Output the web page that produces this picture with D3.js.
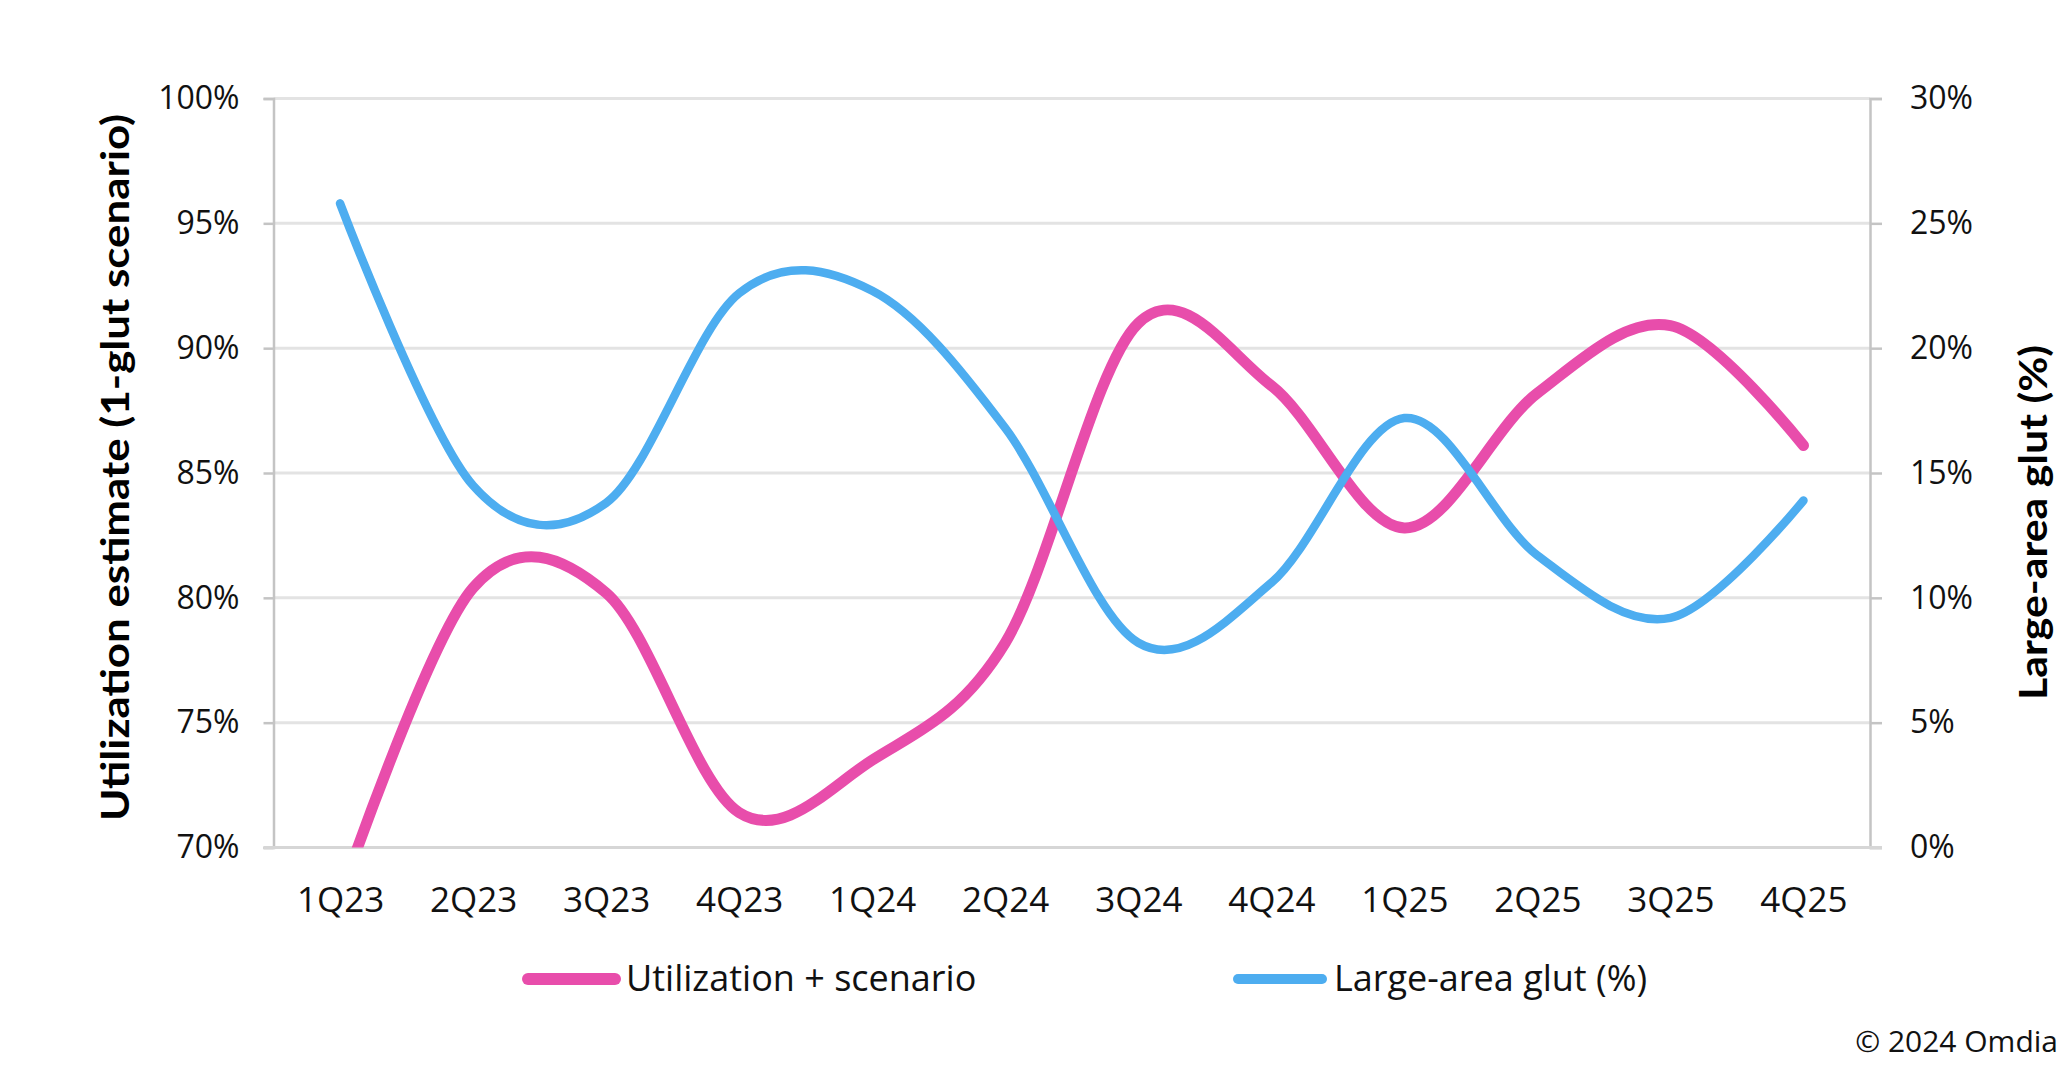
<!DOCTYPE html>
<html>
<head>
<meta charset="utf-8">
<script src="https://cdn.jsdelivr.net/npm/d3@7"></script>
<style>
  html, body { margin: 0; padding: 0; background: #fff; }
  svg { display: block; }
</style>
</head>
<body>
<svg id="chart" width="2068" height="1083"></svg>
<script>
// ---- data ----
const categories = ["1Q23","2Q23","3Q23","4Q23","1Q24","2Q24","3Q24","4Q24","1Q25","2Q25","3Q25","4Q25"];
const utilization = [68.0, 80.4, 80.2, 71.4, 73.5, 78.2, 91.0, 88.5, 82.8, 88.2, 90.9, 86.1];
const glut = [25.8, 14.5, 13.8, 22.2, 22.3, 16.8, 8.2, 10.6, 17.2, 11.7, 9.2, 13.9];
const leftTicks = [70, 75, 80, 85, 90, 95, 100];
const rightTicks = [0, 5, 10, 15, 20, 25, 30];
const seriesNames = ["Utilization + scenario", "Large-area glut (%)"];
const leftTitle = "Utilization estimate (1-glut scenario)";
const rightTitle = "Large-area glut (%)";
const credit = "\u00A9 2024 Omdia";

// ---- layout ----
const L = 273.5, R = 1870, T = 98.5, B = 847.5;
const pink = "#E84DAB", blue = "#4DADF0";
const svg = d3.select("#chart");

const x = d3.scalePoint().domain(categories).range([L, R]).padding(0.5);
const yL = d3.scaleLinear().domain([70, 100]).range([B, T]);
const yR = d3.scaleLinear().domain([0, 30]).range([B, T]);

// gridlines
svg.append("g").selectAll("line").data(leftTicks.slice(1)).join("line")
  .attr("x1", L).attr("x2", R)
  .attr("y1", d => yL(d)).attr("y2", d => yL(d))
  .attr("stroke", "#e3e3e3").attr("stroke-width", 3);

// left axis
const gL = svg.append("g").attr("transform", `translate(${L},0)`)
  .call(d3.axisLeft(yL).tickValues(leftTicks).tickSize(10).tickPadding(24).tickFormat(d => d + "%"));
// right axis
const gR = svg.append("g").attr("transform", `translate(${R},0)`)
  .call(d3.axisRight(yR).tickValues(rightTicks).tickSize(12).tickPadding(28).tickFormat(d => d + "%"));
[gL, gR].forEach(g => {
  g.select(".domain").attr("stroke", "#c4c4c4").attr("stroke-width", 2.5);
  g.selectAll(".tick line").attr("stroke", "#c4c4c4").attr("stroke-width", 2.5);
  g.selectAll(".tick text").attr("font-family", "'Open Sans', sans-serif")
    .attr("font-size", 32).attr("fill", "#111");
});
// category axis (baseline)
const gX = svg.append("g").attr("transform", `translate(0,${B})`)
  .call(d3.axisBottom(x).tickSize(0).tickPadding(40));
gX.select(".domain").attr("stroke", "#d6d6d6").attr("stroke-width", 3)
  .attr("d", `M${L - 10},0H${R + 12}`);
gX.selectAll(".tick text").attr("font-family", "'Open Sans', sans-serif")
  .attr("font-size", 35).attr("fill", "#111").attr("dy", "0.71em");

// clip
svg.append("clipPath").attr("id", "plotclip").append("rect")
  .attr("x", L - 10).attr("y", T).attr("width", R - L + 20).attr("height", B - T);

const curve = d3.curveCardinal.tension(0);
const lineL = d3.line().x((d, i) => x(categories[i])).y(d => yL(d)).curve(curve);
const lineR = d3.line().x((d, i) => x(categories[i])).y(d => yR(d)).curve(curve);

const lines = svg.append("g").attr("clip-path", "url(#plotclip)");
lines.append("path").attr("d", lineL(utilization)).attr("fill", "none")
  .attr("stroke", pink).attr("stroke-width", 11).attr("stroke-linecap", "round").attr("stroke-linejoin", "round");
lines.append("path").attr("d", lineR(glut)).attr("fill", "none")
  .attr("stroke", blue).attr("stroke-width", 8.5).attr("stroke-linecap", "round").attr("stroke-linejoin", "round");

// axis titles
svg.append("text").text(leftTitle)
  .attr("transform", `translate(129,${467.5}) rotate(-90)`)
  .attr("text-anchor", "middle").attr("font-family", "Lato, sans-serif").attr("font-weight", 700)
  .attr("font-size", 39).attr("fill", "#000")
  .attr("textLength", 707).attr("lengthAdjust", "spacingAndGlyphs");
svg.append("text").text(rightTitle)
  .attr("transform", `translate(2047,${522.5}) rotate(-90)`)
  .attr("text-anchor", "middle").attr("font-family", "Lato, sans-serif").attr("font-weight", 700)
  .attr("font-size", 39).attr("fill", "#000")
  .attr("textLength", 355).attr("lengthAdjust", "spacingAndGlyphs");

// legend
const legend = [
  { name: seriesNames[0], color: pink, w: 12, x0: 528, x1: 615, tx: 626 },
  { name: seriesNames[1], color: blue, w: 10, x0: 1238, x1: 1322, tx: 1334 }
];
const lg = svg.append("g").selectAll("g").data(legend).join("g");
lg.append("line").attr("x1", d => d.x0).attr("x2", d => d.x1).attr("y1", 979).attr("y2", 979)
  .attr("stroke", d => d.color).attr("stroke-width", d => d.w).attr("stroke-linecap", "round");
lg.append("text").attr("x", d => d.tx).attr("y", 991).text(d => d.name)
  .attr("font-family", "'Open Sans', sans-serif").attr("font-size", 36).attr("fill", "#111");

// credit
svg.append("text").text(credit).attr("x", 2058).attr("y", 1052).attr("text-anchor", "end")
  .attr("font-family", "'Open Sans', sans-serif").attr("font-size", 30).attr("fill", "#111");
</script>
</body>
</html>
